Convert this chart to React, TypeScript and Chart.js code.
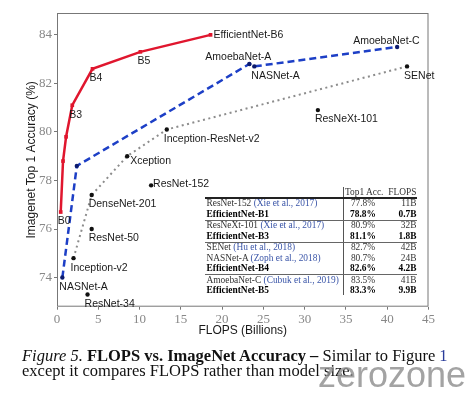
import React, { useEffect, useRef } from "react";
import { Chart, registerables } from "chart.js";
Chart.register(...registerables);

// ---- data ----
const X_TICKS = [0, 5, 10, 15, 20, 25, 30, 35, 40, 45];
const Y_TICKS = [74, 76, 78, 80, 82, 84];

const EFF_NAMES = ["B0", "", "", "B3", "B4", "B5", "EfficientNet-B6"];
const EFF_FLOPS = [0.45, 0.73, 1.1, 1.85, 4.3, 10.1, 18.6];
const EFF_ACC = [76.7, 78.8, 79.8, 81.1, 82.6, 83.3, 84.0];

const NAS_NAMES = ["NASNet-A", "", "AmoebaNet-A", "NASNet-A", "AmoebaNet-C"];
const NAS_FLOPS = [0.65, 2.4, 23.3, 23.9, 41.2];
const NAS_ACC = [74.0, 78.6, 82.8, 82.7, 83.5];

const GRAY_NAMES = ["Inception-v2", "DenseNet-201", "Xception", "Inception-ResNet-v2", "SENet"];
const GRAY_FLOPS = [2.0, 4.2, 8.5, 13.3, 42.4];
const GRAY_ACC = [74.8, 77.4, 79.0, 80.1, 82.7];

const OTHER_NAMES = ["ResNet-34", "ResNet-50", "ResNet-152", "ResNeXt-101"];
const OTHER_FLOPS = [3.7, 4.2, 11.4, 31.6];
const OTHER_ACC = [73.3, 76.0, 77.8, 80.9];

const TABLE_MODELS = [
  "ResNet-152", "EfficientNet-B1", "ResNeXt-101", "EfficientNet-B3",
  "SENet", "NASNet-A", "EfficientNet-B4", "AmoebaNet-C", "EfficientNet-B5",
];
const TABLE_CITES = [
  "(Xie et al., 2017)", "", "(Xie et al., 2017)", "",
  "(Hu et al., 2018)", "(Zoph et al., 2018)", "", "(Cubuk et al., 2019)", "",
];
const TABLE_ACC = ["77.8%", "78.8%", "80.9%", "81.1%", "82.7%", "80.7%", "82.6%", "83.5%", "83.3%"];
const TABLE_FLOPS = ["11B", "0.7B", "32B", "1.8B", "42B", "24B", "4.2B", "41B", "9.9B"];
const TABLE_GROUP = [0, 0, 1, 1, 2, 2, 2, 3, 3];

// ---- styles ----
const LABEL_OFFSETS: Record<string, [number, number]> = {
  "EfficientNet-B6": [3, 0],
  "AmoebaNet-A": [-44, -7],
  "AmoebaNet-C": [-44, -6],
  Xception: [3, 5],
  "ResNet-152": [2, -1],
};
const DEFAULT_OFFSET: [number, number] = [-3, 9.5];

const pts = (xs: number[], ys: number[]) => xs.map((x, i) => ({ x, y: ys[i] }));

const labelPlugin = {
  id: "pointLabels",
  afterDatasetsDraw(chart: any) {
    const { ctx, scales } = chart;
    const groups = [
      [EFF_NAMES, EFF_FLOPS, EFF_ACC],
      [NAS_NAMES, NAS_FLOPS, NAS_ACC],
      [GRAY_NAMES, GRAY_FLOPS, GRAY_ACC],
      [OTHER_NAMES, OTHER_FLOPS, OTHER_ACC],
    ] as [string[], number[], number[]][];
    ctx.save();
    ctx.font = '10.5px "Liberation Sans", Arial, sans-serif';
    ctx.fillStyle = "#1a1a1a";
    ctx.textAlign = "left";
    ctx.textBaseline = "middle";
    groups.forEach(([names, xs, ys]) => {
      names.forEach((n, i) => {
        if (!n) return;
        const px = scales.x.getPixelForValue(xs[i]);
        const py = scales.y.getPixelForValue(ys[i]);
        const [dx, dy] = LABEL_OFFSETS[n] || DEFAULT_OFFSET;
        ctx.fillText(n, px + dx, py + dy);
      });
    });
    ctx.restore();
  },
};

const framePlugin = {
  id: "frame",
  beforeDatasetsDraw(chart: any) {
    const { ctx, chartArea: a } = chart;
    ctx.save();
    ctx.strokeStyle = "#777";
    ctx.lineWidth = 1;
    ctx.strokeRect(a.left + 0.5, a.top + 0.5, a.right - a.left - 1, a.bottom - a.top - 1);
    ctx.restore();
  },
};

const serif = '"Liberation Serif", "Times New Roman", serif';

export default function App() {
  const ref = useRef<HTMLCanvasElement>(null);
  useEffect(() => {
    const chart = new Chart(ref.current as HTMLCanvasElement, {
      type: "line",
      data: {
        datasets: [
          {
            data: pts(EFF_FLOPS, EFF_ACC),
            borderColor: "#e0162e",
            backgroundColor: "#e0162e",
            borderWidth: 2.5,
            pointStyle: "rect",
            pointRadius: 2.6,
            pointBorderWidth: 0,
          },
          {
            data: pts(NAS_FLOPS, NAS_ACC),
            borderColor: "#1d3fc6",
            backgroundColor: "#0b1a6e",
            borderWidth: 2.5,
            borderDash: [7, 4],
            pointRadius: 2.2,
            pointBorderWidth: 0,
          },
          {
            data: pts(GRAY_FLOPS, GRAY_ACC),
            borderColor: "#8c8c8c",
            backgroundColor: "#111",
            borderWidth: 2,
            borderDash: [2, 3.5],
            pointRadius: 2.2,
            pointBorderWidth: 0,
          },
          {
            data: pts(OTHER_FLOPS, OTHER_ACC),
            showLine: false,
            backgroundColor: "#111",
            pointRadius: 2.2,
            pointBorderWidth: 0,
          },
        ],
      } as any,
      options: {
        animation: false,
        responsive: false,
        parsing: false,
        clip: false,
        layout: { padding: { left: 0, top: 13, right: 45.5, bottom: 0 } },
        plugins: { legend: { display: false }, tooltip: { enabled: false } },
        elements: { line: { tension: 0 } },
        scales: {
          x: {
            type: "linear",
            min: 0,
            max: 45,
            afterBuildTicks: (s: any) => {
              s.ticks = X_TICKS.map((v) => ({ value: v }));
            },
            afterFit: (s: any) => {
              s.height = 38.3;
            },
            border: { display: false },
            grid: { drawOnChartArea: false, drawTicks: true, tickLength: 3, color: "#777" },
            ticks: { font: { family: serif, size: 13 }, color: "#888", padding: 2, maxRotation: 0 },
            title: {
              display: true,
              text: "FLOPS (Billions)",
              font: { family: '"Liberation Sans", Arial, sans-serif', size: 12 },
              color: "#1a1a1a",
              padding: { top: 0, bottom: 7 },
            },
          },
          y: {
            type: "linear",
            min: 72.8,
            max: 84.9,
            afterBuildTicks: (s: any) => {
              s.ticks = Y_TICKS.map((v) => ({ value: v }));
            },
            afterFit: (s: any) => {
              s.width = 57;
            },
            border: { display: false },
            grid: { drawOnChartArea: false, drawTicks: true, tickLength: 3, color: "#777" },
            ticks: { font: { family: serif, size: 13 }, color: "#888", padding: 2 },
            title: {
              display: true,
              text: "Imagenet Top 1 Accuracy (%)",
              font: { family: '"Liberation Sans", Arial, sans-serif', size: 12 },
              color: "#1a1a1a",
              padding: { top: 24.5, bottom: 0 },
            },
          },
        },
      } as any,
      plugins: [framePlugin, labelPlugin],
    });
    return () => chart.destroy();
  }, []);

  const rowY = (i: number) => 203.3 + i * 10.25 + TABLE_GROUP[i] * 1.5;
  const sepY = [220, 241.7, 274.3];

  return (
    <div
      style={{
        position: "fixed",
        left: 0,
        top: 0,
        width: 474,
        height: 399,
        background: "#fff",
        overflow: "hidden",
      }}
    >
      <canvas ref={ref} width={474} height={345} style={{ display: "block", position: "absolute", left: 0, top: 0 }} />

      {/* table */}
      <div style={{ position: "absolute", left: 0, top: 0, width: 474, height: 345, fontFamily: serif, fontSize: 9.4, color: "#333" }}>
        <div style={{ position: "absolute", left: 342.5, top: 187, width: 1, height: 108, background: "#555" }} />
        <div style={{ position: "absolute", left: 205, top: 197, width: 212, height: 1.5, background: "#222" }} />
        {sepY.map((y, i) => (
          <div key={i} style={{ position: "absolute", left: 205, top: y, width: 212, height: 1, background: "#666" }} />
        ))}
        <div style={{ position: "absolute", left: 345, top: 192.3 - 6, lineHeight: "12px", whiteSpace: "nowrap" }}>Top1 Acc.</div>
        <div style={{ position: "absolute", right: 474 - 416.5, top: 192.3 - 6, lineHeight: "12px", whiteSpace: "nowrap" }}>FLOPS</div>
        {TABLE_MODELS.map((m, i) => {
          const bold = TABLE_CITES[i] === "";
          const st: any = { position: "absolute", top: rowY(i) - 6, lineHeight: "12px", whiteSpace: "nowrap", fontWeight: bold ? "bold" : "normal", color: bold ? "#000" : "#333" };
          return (
            <React.Fragment key={i}>
              <div style={{ ...st, left: 206.5 }}>
                {m}
                {TABLE_CITES[i] ? <span style={{ color: "#3a55a8" }}> {TABLE_CITES[i]}</span> : null}
              </div>
              <div style={{ ...st, left: 343, width: 40, textAlign: "center" }}>{TABLE_ACC[i]}</div>
              <div style={{ ...st, right: 474 - 416.5 }}>{TABLE_FLOPS[i]}</div>
            </React.Fragment>
          );
        })}
      </div>

      {/* caption */}
      <div
        style={{
          position: "absolute",
          left: 22,
          top: 347.6,
          fontFamily: serif,
          fontSize: 16.5,
          lineHeight: "15px",
          color: "#111",
          whiteSpace: "nowrap",
        }}
      >
        <i>Figure 5.</i> <b>FLOPS vs. ImageNet Accuracy –</b> Similar to Figure{" "}
        <span style={{ color: "#2a3c9a" }}>1</span>
        <br />
        except it compares FLOPS rather than model size.
      </div>

      {/* watermark */}
      <div
        style={{
          position: "absolute",
          left: 318,
          top: 357,
          fontFamily: '"Liberation Sans", Arial, sans-serif',
          fontSize: 36,
          lineHeight: "35px",
          color: "rgba(140,140,140,0.8)",
          whiteSpace: "nowrap",
        }}
      >
        zerozone
      </div>
    </div>
  );
}
